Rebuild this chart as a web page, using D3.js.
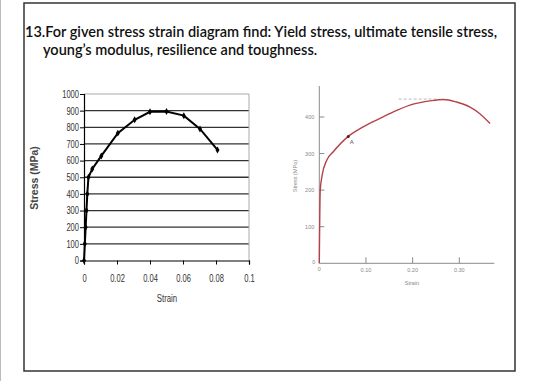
<!DOCTYPE html>
<html><head><meta charset="utf-8">
<script src="https://cdn.jsdelivr.net/npm/d3@7"></script>
<style>
html,body{margin:0;padding:0;background:#fff;}
svg{display:block;}
</style></head>
<body>
<svg id="c" width="540" height="381"></svg>
<script>
// ---- data ----
const titleLines = ["13.For given stress strain diagram find: Yield stress, ultimate tensile stress,",
                    "young\u2019s modulus, resilience and toughness."];
// left chart
const leftStrain = [0, 0.0005, 0.001, 0.0015, 0.002, 0.0027, 0.005, 0.0105, 0.0205, 0.0307, 0.040, 0.050, 0.0605, 0.0703, 0.0809];
const leftStress = [0, 100, 200, 300, 400, 500, 550, 628, 765, 845, 893, 895, 870, 790, 664];
const leftYTicks = [0, 100, 200, 300, 400, 500, 600, 700, 800, 900, 1000];
const leftXTicks = [0, 0.02, 0.04, 0.06, 0.08, 0.1];
const leftXLabels = ["0", "0.02", "0.04", "0.06", "0.08", "0.1"];
// right chart
const rightStrain = [0, 0.002, 0.006, 0.016, 0.030, 0.062, 0.094, 0.130, 0.166, 0.201, 0.237, 0.266, 0.294, 0.323, 0.344, 0.366];
const rightStress = [0, 200, 240, 282, 305, 347, 373, 396, 418, 435, 444, 448, 441, 427, 409, 382];
const rightYTicks = [100, 200, 300, 400];
const rightXTicks = [0.10, 0.20, 0.30];
const rightXLabels = ["0.10", "0.20", "0.30"];
const pointA = {strain: 0.062, stress: 347, label: "A"};
const utsDash = {from: 0.17, to: 0.25, stress: 449};

const svg = d3.select("#c");

// page frame
svg.append("line").attr("x1",0.5).attr("x2",0.5).attr("y1",0).attr("y2",381).attr("stroke","#bbb").attr("stroke-width",1);
svg.append("rect").attr("x",24).attr("y",3).attr("width",491).attr("height",368)
  .attr("fill","#fff").attr("stroke","#333").attr("stroke-width",1.5);

// title
svg.append("text").attr("x",25).attr("y",37).attr("font-family","Lato, 'Open Sans', sans-serif")
  .attr("font-size",14.5).attr("font-weight",600).attr("fill","#111").text(titleLines[0]);
svg.append("text").attr("x",43).attr("y",55).attr("font-family","Lato, 'Open Sans', sans-serif")
  .attr("font-size",14.5).attr("font-weight",600).attr("fill","#111").text(titleLines[1]);

// narrow text helper: squeeze glyphs horizontally
function squeeze(sel, f) {
  sel.each(function(){
    const w = this.getComputedTextLength();
    if (w > 0) d3.select(this).attr("textLength", w*f).attr("lengthAdjust","spacingAndGlyphs");
  });
}

// ---------- left chart ----------
const font = "'Liberation Sans', Arial, sans-serif";
const lx = d3.scaleLinear().domain([0, 0.1]).range([84, 249]);
const ly = d3.scaleLinear().domain([0, 1000]).range([260.5, 94]);
const L = svg.append("g");

// grid
L.selectAll("line.grid").data(leftYTicks.filter(d=>d>0)).join("line")
  .attr("x1",lx(0)).attr("x2",lx(0.1)).attr("y1",d=>ly(d)).attr("y2",d=>ly(d))
  .attr("stroke",d=> d===1000 ? "#aaa" : "#333").attr("stroke-width",d=> d===1000 ? 1 : 1.3);
L.append("line").attr("x1",lx(0.1)).attr("x2",lx(0.1)).attr("y1",ly(1000)).attr("y2",ly(0))
  .attr("stroke","#aaa").attr("stroke-width",1);

// axes
const yAxL = d3.axisLeft(ly).tickValues(leftYTicks).tickSize(4).tickFormat(d3.format("d"));
const gyL = L.append("g").attr("transform",`translate(${lx(0)},0)`).call(yAxL);
gyL.select(".domain").attr("stroke","#000").attr("stroke-width",1.2);
gyL.selectAll(".tick line").attr("stroke","#000");
gyL.selectAll(".tick text").attr("font-family",font).attr("font-size",10.5).attr("fill","#333").attr("x",-5)
  .call(squeeze, 0.72);

const xAxL = d3.axisBottom(lx).tickValues(leftXTicks).tickSize(4).tickFormat((d,i)=>leftXLabels[i]);
const gxL = L.append("g").attr("transform",`translate(0,${ly(0)})`).call(xAxL);
gxL.select(".domain").attr("stroke","#000").attr("stroke-width",1.2);
gxL.selectAll(".tick line").attr("stroke","#000");
gxL.selectAll(".tick text").attr("font-family",font).attr("font-size",10.5).attr("fill","#333").attr("y",14)
  .call(squeeze, 0.72);

L.append("text").attr("x",167).attr("y",302).attr("text-anchor","middle")
  .attr("font-family",font).attr("font-size",10).attr("fill","#333").text("Strain").call(squeeze, 0.78);
L.append("text").attr("transform","translate(38,178) rotate(-90)").attr("text-anchor","middle")
  .attr("font-family",font).attr("font-size",10.5).attr("font-weight","bold")
  .attr("fill","#444").text("Stress (MPa)");

const leftData = leftStrain.map((s,i)=>({x:s, y:leftStress[i]}));
L.append("path").datum(leftData)
  .attr("d", d3.line().x(d=>lx(d.x)).y(d=>ly(d.y)))
  .attr("fill","none").attr("stroke","#000").attr("stroke-width",2);
L.selectAll("path.mk").data(leftData).join("path").attr("class","mk")
  .attr("transform",d=>`translate(${lx(d.x)},${ly(d.y)})`)
  .attr("d", d3.symbol(d3.symbolDiamond, 14)).attr("fill","#000");

// ---------- right chart ----------
const rx = d3.scaleLinear().domain([0, 0.375]).range([319.3, 494.3]);
const ry = d3.scaleLinear().domain([0, 400]).range([263.3, 117]);
const R = svg.append("g");
const grey = "#8a8a8a";

R.append("line").attr("x1",rx(0)).attr("x2",rx(0)).attr("y1",ry(0)).attr("y2",86).attr("stroke",grey).attr("stroke-width",1);
R.append("line").attr("x1",rx(0)).attr("x2",rx(0.375)).attr("y1",ry(0)).attr("y2",ry(0)).attr("stroke",grey).attr("stroke-width",1);

R.selectAll("line.yt").data(rightYTicks).join("line")
  .attr("x1",rx(0)).attr("x2",rx(0)+5).attr("y1",d=>ry(d)).attr("y2",d=>ry(d)).attr("stroke",grey);
R.selectAll("text.yt").data(rightYTicks).join("text")
  .attr("x",rx(0)-5).attr("y",d=>ry(d)+2).attr("text-anchor","end")
  .attr("font-family",font).attr("font-size",5.5).attr("fill","#888").text(d=>d);
R.append("text").attr("x",rx(0)-4).attr("y",ry(0)+1).attr("text-anchor","end")
  .attr("font-family",font).attr("font-size",5.5).attr("fill","#888").text("0");

R.selectAll("line.xt").data(rightXTicks).join("line")
  .attr("x1",d=>rx(d)).attr("x2",d=>rx(d)).attr("y1",ry(0)).attr("y2",ry(0)-6).attr("stroke",grey);
R.selectAll("text.xt").data(rightXTicks).join("text")
  .attr("x",d=>rx(d)).attr("y",ry(0)+9).attr("text-anchor","middle")
  .attr("font-family",font).attr("font-size",5.5).attr("fill","#888").text((d,i)=>rightXLabels[i]);
R.append("text").attr("x",rx(0)).attr("y",ry(0)+8).attr("text-anchor","middle")
  .attr("font-family",font).attr("font-size",5.5).attr("fill","#888").text("0");

R.append("text").attr("x",412).attr("y",285).attr("text-anchor","middle")
  .attr("font-family",font).attr("font-size",5.5).attr("fill","#888").text("Strain");
R.append("text").attr("transform","translate(297,176) rotate(-90)").attr("text-anchor","middle")
  .attr("font-family",font).attr("font-size",5.5).attr("fill","#888").text("Stress (MPa)");

R.append("line").attr("x1",rx(utsDash.from)).attr("x2",rx(utsDash.to))
  .attr("y1",ry(utsDash.stress)).attr("y2",ry(utsDash.stress))
  .attr("stroke","#aaa").attr("stroke-width",0.8).attr("stroke-dasharray","3,2");

const rightData = rightStrain.map((s,i)=>({x:s, y:rightStress[i]}));
R.append("path").datum(rightData)
  .attr("d", d3.line().curve(d3.curveMonotoneX).x(d=>rx(d.x)).y(d=>ry(d.y)))
  .attr("fill","none").attr("stroke","#b5424a").attr("stroke-width",1.4);
R.append("circle").attr("cx",rx(pointA.strain)).attr("cy",ry(pointA.stress)).attr("r",1.5).attr("fill","#5a1a1a");
R.append("text").attr("x",rx(pointA.strain)+1.5).attr("y",ry(pointA.stress)+8)
  .attr("font-family",font).attr("font-size",6).attr("fill","#555").text(pointA.label);
</script>
</body></html>
